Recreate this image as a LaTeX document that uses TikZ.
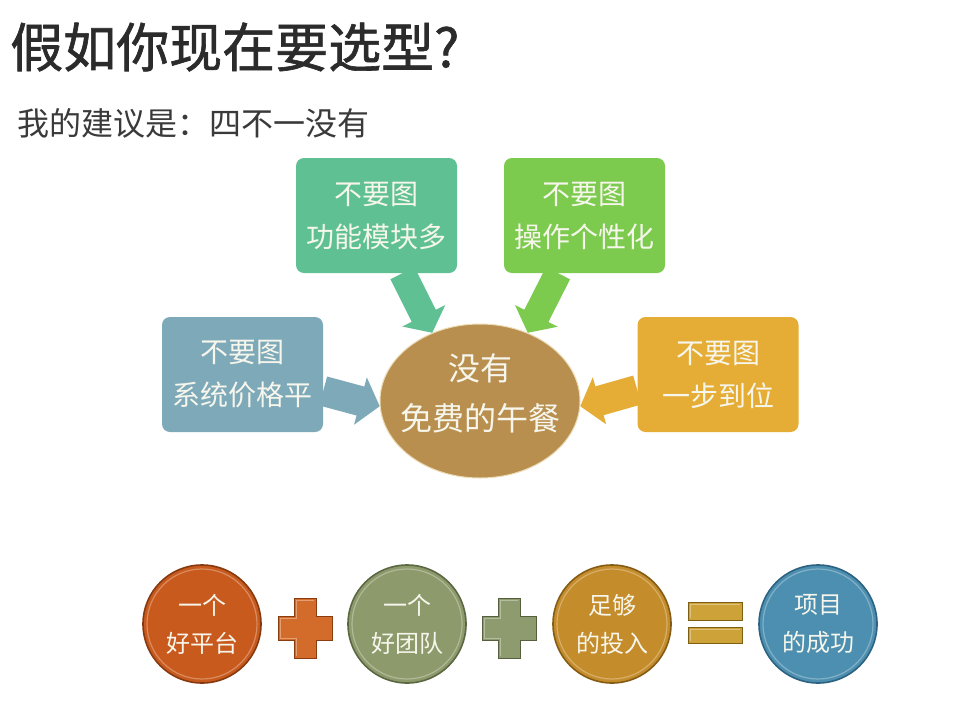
\documentclass[tikz,border=0pt]{standalone}
\usepackage{fontspec}
\setmainfont{Noto Sans CJK SC}
\newfontfamily\titlefont{Noto Sans CJK SC}[FakeBold=1.2]
\usetikzlibrary{arrows.meta,shapes.geometric,calc,backgrounds}
\definecolor{titlegray}{HTML}{2B2B2B}
\definecolor{subgray}{HTML}{3A3A3A}
\definecolor{tlgreen}{HTML}{5FC193}
\definecolor{trgreen}{HTML}{7CCB4E}
\definecolor{lblue}{HTML}{7EA9B9}
\definecolor{rgold}{HTML}{E5AD35}
\definecolor{ctan}{HTML}{B98F4F}
\definecolor{crim}{HTML}{EADBB4}
\definecolor{boxtext}{HTML}{F6F6EC}
\definecolor{orangec}{HTML}{C95A1D}
\definecolor{orangeb}{HTML}{873A10}
\definecolor{olivec}{HTML}{8D9A6B}
\definecolor{oliveb}{HTML}{5C6744}
\definecolor{goldc}{HTML}{C58C2B}
\definecolor{goldb}{HTML}{855C14}
\definecolor{bluec}{HTML}{4D8FB0}
\definecolor{blueb}{HTML}{2D6380}
\definecolor{plusor}{HTML}{D36C2A}
\definecolor{plusorb}{HTML}{8A3C0E}
\definecolor{plusol}{HTML}{8E9B6E}
\definecolor{plusolb}{HTML}{56603F}
\definecolor{eqgold}{HTML}{CDA239}
\definecolor{eqgoldb}{HTML}{7E5E12}
\begin{document}
\begin{tikzpicture}[x=1pt,y=-1pt,
  infobox/.style={rectangle, rounded corners=8pt, minimum width=161pt, minimum height=115pt,
    inner sep=0pt, align=center, text=boxtext, font=\fontsize{28}{43}\selectfont},
  blockarr/.style={line cap=butt},
  sidearr/.style={blockarr, line width=30pt, -{Triangle[width=48pt,length=20pt]}},
  toparr/.style={blockarr, line width=27pt, -{Triangle[width=47pt,length=19pt]}},
  coin/.style={circle, minimum size=118pt, inner sep=0pt, align=center, text=boxtext,
    line width=1.6pt, font=\fontsize{24}{38}\selectfont},
  rim/.style={white, opacity=0.3, line width=1.2pt},
  opfill/.style={line width=1pt, line join=miter}
]
\useasboundingbox (0,0) rectangle (960,720);

% titles
\node[anchor=west, inner sep=0pt, text=titlegray, font=\titlefont\fontsize{53}{60}\selectfont] (title) at (10,47) {假如你现在要选型?};
\node[anchor=west, inner sep=0pt, text=subgray, font=\fontsize{32}{38}\selectfont] (sub) at (17,123) {我的建议是：四不一没有};

% central ellipse and boxes
\node[ellipse, minimum width=200pt, minimum height=154pt, inner sep=0pt, fill=ctan, draw=crim, line width=1pt] (c) at (480,401) {};
\node[align=center, inner sep=0pt, text=boxtext, font=\fontsize{32}{50}\selectfont] (ct) at ($(c.center)+(0,-8)$) {没有\\免费的午餐};
\node[infobox, fill=tlgreen] (tl) at (376.5,215.5) {不要图\\功能模块多};
\node[infobox, fill=trgreen] (tr) at (584.5,215.5) {不要图\\操作个性化};
\node[infobox, fill=lblue] (lb) at (242.5,374.5) {不要图\\系统价格平};
\node[infobox, fill=rgold] (rb) at (718,374.5) {不要图\\一步到位};

% block arrows, behind boxes and ellipse
\begin{scope}[on background layer]
\fill[white] (0,0) rectangle (960,720);
\draw[toparr, tlgreen] ($(tl.south)+(26,0)$) -- (c.125);
\draw[toparr, trgreen] ($(tr.south)+(-26.5,0)$) -- (c.55);
\draw[sidearr, lblue] ($(lb.east)+(0,16.5)$) -- (c.183);
\draw[sidearr, rgold] ($(rb.west)+(0,15.5)$) -- (c.-3);
\end{scope}

% bottom row
\node[coin, fill=orangec, draw=orangeb] (o1) at (202,624) {一个\\好平台};
\node[coin, fill=olivec, draw=oliveb] (o2) at (407,624) {一个\\好团队};
\node[coin, fill=goldc, draw=goldb] (o3) at (612,624) {足够\\的投入};
\node[coin, fill=bluec, draw=blueb] (o4) at (818,624) {项目\\的成功};
\foreach \n in {o1,o2,o3,o4}{\draw[rim] (\n.center) circle (55);}

% plus signs
\foreach \px/\pf/\pd in {305/plusor/plusorb, 509/plusol/plusolb}{
  \begin{scope}[shift={(\px,628)}]
    \filldraw[opfill, fill=\pf, draw=\pd] (-11,-30) -- (11,-30) -- (11,-12) -- (27,-12) -- (27,12) -- (11,12) -- (11,30) -- (-11,30) -- (-11,12) -- (-27,12) -- (-27,-12) -- (-11,-12) -- cycle;
    \draw[white, opacity=0.35, line width=0.8pt] (-9,28) -- (-9,10) -- (-25,10) -- (-25,-10) -- (-9,-10) -- (-9,-28) -- (9,-28);
  \end{scope}}

% equals sign
\filldraw[opfill, fill=eqgold, draw=eqgoldb] (688,602) rectangle (742,620);
\filldraw[opfill, fill=eqgold, draw=eqgoldb] (688,627) rectangle (742,643);
\draw[white, opacity=0.35, line width=0.8pt] (690,618) -- (690,604) -- (740,604);
\draw[white, opacity=0.35, line width=0.8pt] (690,641) -- (690,629) -- (740,629);
\end{tikzpicture}
\end{document}
